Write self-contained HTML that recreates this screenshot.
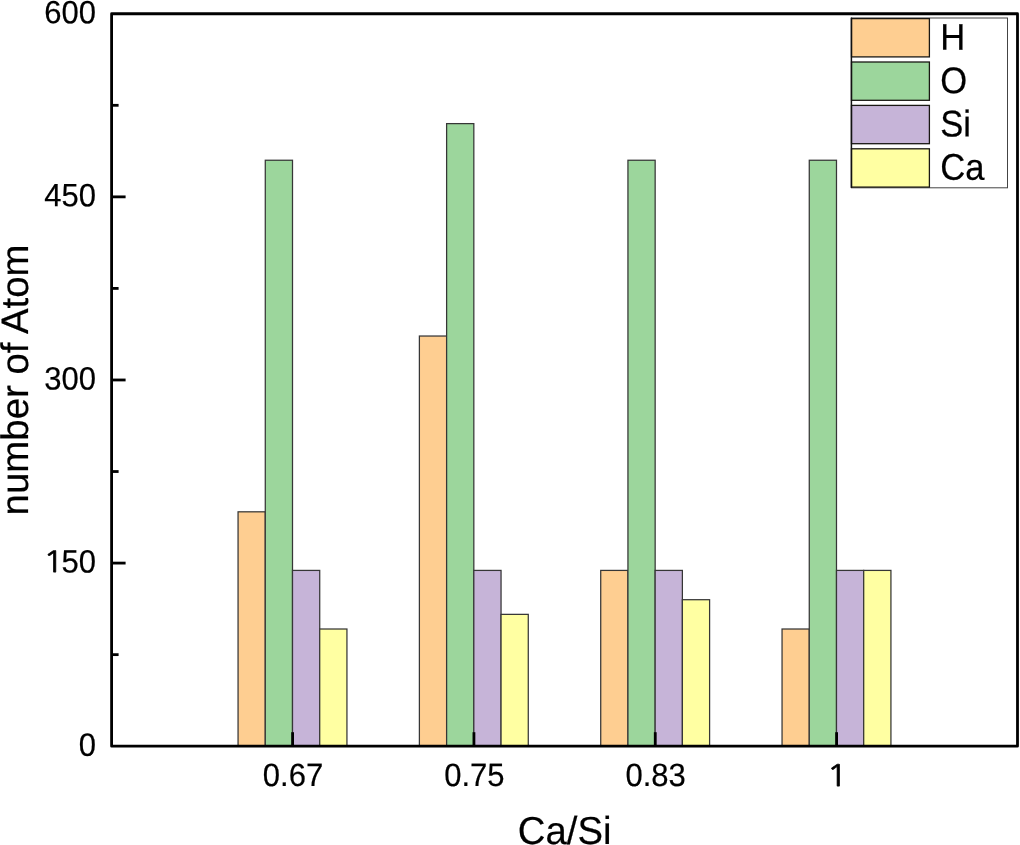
<!DOCTYPE html>
<html lang="en"><head><meta charset="utf-8"><title>number of Atom vs Ca/Si</title>
<style>html,body{margin:0;padding:0;background:#fff;overflow:hidden}svg{display:block}text{text-rendering:geometricPrecision;font-family:"Liberation Sans",sans-serif;fill:#000;stroke:#000;stroke-width:0.2px}</style></head><body>
<svg width="1020" height="845" viewBox="0 0 1020 845">
<rect width="1020" height="845" fill="#fff"/>
<g stroke="#363636" stroke-width="1.25">
<rect x="238.06" y="511.82" width="27.22" height="234.38" fill="#FECE91"/>
<rect x="265.28" y="160.24" width="27.22" height="585.96" fill="#9CD69C"/>
<rect x="292.50" y="570.41" width="27.22" height="175.79" fill="#C6B4D8"/>
<rect x="319.72" y="629.01" width="27.22" height="117.19" fill="#FFFFA2"/>
<rect x="419.39" y="336.03" width="27.22" height="410.17" fill="#FECE91"/>
<rect x="446.61" y="123.62" width="27.22" height="622.58" fill="#9CD69C"/>
<rect x="473.83" y="570.41" width="27.22" height="175.79" fill="#C6B4D8"/>
<rect x="501.05" y="614.36" width="27.22" height="131.84" fill="#FFFFA2"/>
<rect x="600.72" y="570.41" width="27.22" height="175.79" fill="#FECE91"/>
<rect x="627.94" y="160.24" width="27.22" height="585.96" fill="#9CD69C"/>
<rect x="655.16" y="570.41" width="27.22" height="175.79" fill="#C6B4D8"/>
<rect x="682.38" y="599.71" width="27.22" height="146.49" fill="#FFFFA2"/>
<rect x="782.05" y="629.01" width="27.22" height="117.19" fill="#FECE91"/>
<rect x="809.27" y="160.24" width="27.22" height="585.96" fill="#9CD69C"/>
<rect x="836.49" y="570.41" width="27.22" height="175.79" fill="#C6B4D8"/>
<rect x="863.71" y="570.41" width="27.22" height="175.79" fill="#FFFFA2"/>
</g>
<g stroke="#000" stroke-width="2.80" fill="none" stroke-linecap="butt">
<rect x="111.60" y="13.75" width="905.90" height="732.45" stroke-linejoin="round"/>
<line x1="111.60" y1="654.64" x2="118.60" y2="654.64"/>
<line x1="111.60" y1="563.09" x2="125.60" y2="563.09"/>
<line x1="111.60" y1="471.53" x2="118.60" y2="471.53"/>
<line x1="111.60" y1="379.98" x2="125.60" y2="379.98"/>
<line x1="111.60" y1="288.42" x2="118.60" y2="288.42"/>
<line x1="111.60" y1="196.86" x2="125.60" y2="196.86"/>
<line x1="111.60" y1="105.31" x2="118.60" y2="105.31"/>
<line x1="292.60" y1="746.20" x2="292.60" y2="732.20"/>
<line x1="473.93" y1="746.20" x2="473.93" y2="732.20"/>
<line x1="655.26" y1="746.20" x2="655.26" y2="732.20"/>
<line x1="836.59" y1="746.20" x2="836.59" y2="732.20"/>
</g>
<g font-size="31" text-anchor="end">
<text transform="translate(96.0,755.70) rotate(0.03) scale(1,1.040)">0</text>
<text transform="translate(53.6,572.29) scale(1.2,1)" font-size="29.0" text-anchor="middle" style="font-family:NanumGothic,'Liberation Sans',sans-serif;stroke-width:0.6px">1</text>
<text transform="translate(96.0,572.59) rotate(0.03) scale(1,1.040)">50</text>
<text transform="translate(96.0,389.48) rotate(0.03) scale(1,1.040)">300</text>
<text transform="translate(96.0,206.36) rotate(0.03) scale(1,1.040)">450</text>
<text transform="translate(96.0,23.25) rotate(0.03) scale(1,1.040)">600</text>
</g>
<g font-size="31" text-anchor="middle">
<text transform="translate(293.00,785.9) rotate(0.03) scale(1,1.04)">0.67</text>
<text transform="translate(474.33,785.9) rotate(0.03) scale(1,1.04)">0.75</text>
<text transform="translate(655.66,785.9) rotate(0.03) scale(1,1.04)">0.83</text>
<text transform="translate(837.14,785.6) scale(1.2,1)" font-size="29.4" style="font-family:NanumGothic,'Liberation Sans',sans-serif;stroke-width:0.6px">1</text>
</g>
<text transform="translate(564.7,844.1) rotate(0.03) scale(1,1.02)" font-size="38.3" text-anchor="middle">Ca/Si</text>
<text transform="translate(28.3,379.9) rotate(-90)" font-size="38.4" text-anchor="middle">number of Atom</text>
<rect x="851.5" y="18.0" width="156" height="169.8" fill="#fff" stroke="#444" stroke-width="1"/>
<g stroke="#1a1814" stroke-width="1.3">
<rect x="851.5" y="18.60" width="77.9" height="38.3" fill="#FECE91"/>
<rect x="851.5" y="62.00" width="77.9" height="38.3" fill="#9CD69C"/>
<rect x="851.5" y="105.40" width="77.9" height="38.3" fill="#C6B4D8"/>
<rect x="851.5" y="148.80" width="77.9" height="38.3" fill="#FFFFA2"/>
</g>
<line x1="851.4" y1="17.6" x2="851.4" y2="187.9" stroke="#111" stroke-width="1.5"/>
<g font-size="34.6">
<text transform="translate(940.3,49.85) rotate(0.03) scale(1,1.075)">H</text>
<text transform="translate(940.3,93.15) rotate(0.03) scale(1,1.075)">O</text>
<text transform="translate(940.3,136.45) rotate(0.03) scale(1,1.075)">Si</text>
<text transform="translate(940.3,179.75) rotate(0.03) scale(1,1.075)">Ca</text>
</g>
</svg></body></html>
